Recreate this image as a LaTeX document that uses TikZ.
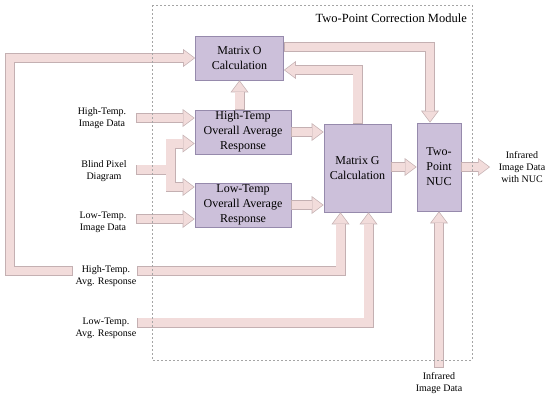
\documentclass[tikz,border=0pt]{standalone}
\usepackage{fontspec}
\setmainfont{Liberation Serif}
\usetikzlibrary{arrows.meta,calc}
\definecolor{boxF}{RGB}{204,192,218}
\definecolor{boxB}{RGB}{150,138,172}
\definecolor{arrF}{RGB}{242,220,219}
\definecolor{arrB}{RGB}{196,176,178}
\definecolor{frameC}{RGB}{165,165,165}
\newcommand\fatpath[1]{\draw[fatO] #1; \draw[fatI] #1;}
\begin{document}
\begin{tikzpicture}[x=1pt,y=-1pt,
 blk/.style={draw=boxB, fill=boxF, line width=0.8pt, inner sep=0pt, align=center, font=\fontsize{12}{15}\selectfont},
 lbl/.style={align=center, inner sep=0pt, font=\fontsize{10}{12}\selectfont},
 fatO/.style={draw=arrB, line width=10pt, -{Triangle[width=18pt,length=12pt,line width=0pt]}},
 fatI/.style={draw=arrF, line width=8.6pt, -{Triangle[width=15.2pt,length=10.1pt,line width=0pt]}, shorten >=1.17pt, shorten <=0.7pt},
 fatOn/.style={draw=arrB, line width=10pt},
 fatIn/.style={draw=arrF, line width=8.6pt, shorten <=0.7pt},
]
\useasboundingbox (0,0) rectangle (550,400);

% blocks
\node[blk, minimum width=88pt, minimum height=44pt] (MO) at (239.5,58) {Matrix O\\Calculation};
\node[blk, minimum width=96pt, minimum height=44pt] (HT) at (243,132) {High-Temp\\Overall Average\\Response};
\node[blk, minimum width=96pt, minimum height=44pt] (LT) at (243,205) {Low-Temp\\Overall Average\\Response};
\node[blk, minimum width=67pt, minimum height=88pt] (MG) at (357.5,168) {Matrix G\\Calculation};
\node[blk, minimum width=44pt, minimum height=88pt] (NUC) at (439,167) {Two-\\Point\\NUC};

% labels
\node[lbl] (lHI) at (102,118) {High-Temp.\\Image Data};
\node[lbl] (lBP) at (104,171) {Blind Pixel\\Diagram};
\node[lbl] (lLI) at (103,222) {Low-Temp.\\Image Data};
\node[lbl] (lHA) at (106,276.5) {High-Temp.\\Avg. Response};
\node[lbl] (lLA) at (106,328) {Low-Temp.\\Avg. Response};
\node[lbl] (lIR) at (439,383) {Infrared\\Image Data};
\node[lbl] (lOut) at (522,167.5) {Infrared\\Image Data\\with NUC};
\node[anchor=east, inner sep=0pt, font=\fontsize{12.5}{15}\selectfont] (title) at (467,18) {Two-Point Correction Module};

% free ends
\coordinate (hIs) at (136,118);
\coordinate (bpS) at (136,169.5);
\coordinate (bpM) at (170.5,169.5);
\coordinate (lIs) at (136,219);
\coordinate (hAl) at (73,271);
\coordinate (loopC) at (10,271);
\coordinate (hAr) at (137,271);
\coordinate (lAr) at (137,322.5);
\coordinate (irS) at (439,368);
\coordinate (outE) at (490,167);

% fat arrows
\fatpath{(hAl) -- (loopC) |- (MO.west)}
\fatpath{(hAr) -| ([xshift=-17pt]MG.south)}
\fatpath{(lAr) -| ([xshift=11pt]MG.south)}
\fatpath{(irS) -- (NUC.south)}
\fatpath{(NUC.east) -- (outE)}
\fatpath{(MG.east |- NUC.west) -- (NUC.west)}
\fatpath{(HT.east) -- (HT.east -| MG.west)}
\fatpath{(LT.east) -- (LT.east -| MG.west)}
\fatpath{(HT.north -| MO.south) -- (MO.south)}
\fatpath{(MG.north) |- ([yshift=-12pt]MO.east)}
\fatpath{([yshift=11pt]MO.east) -| ([xshift=-9pt]NUC.north)}
\fatpath{(hIs) -- ([yshift=14pt]HT.west)}
\fatpath{(lIs) -- ([yshift=-14pt]LT.west)}

% blind pixel fork
\draw[fatOn] (bpS) -- (bpM);
\draw[fatO] (bpM) |- ([yshift=-11.5pt]HT.west);
\draw[fatO] (bpM) |- ([yshift=18pt]LT.west);
\draw[fatIn] (bpS) -- (bpM);
\draw[fatI, shorten <=0pt] (bpM) |- ([yshift=-11.5pt]HT.west);
\draw[fatI, shorten <=0pt] (bpM) |- ([yshift=18pt]LT.west);

% module frame
\draw[frameC, line width=0.5pt, dash pattern=on 2pt off 2pt] (152,5) rectangle (472,360);
\end{tikzpicture}
\end{document}
